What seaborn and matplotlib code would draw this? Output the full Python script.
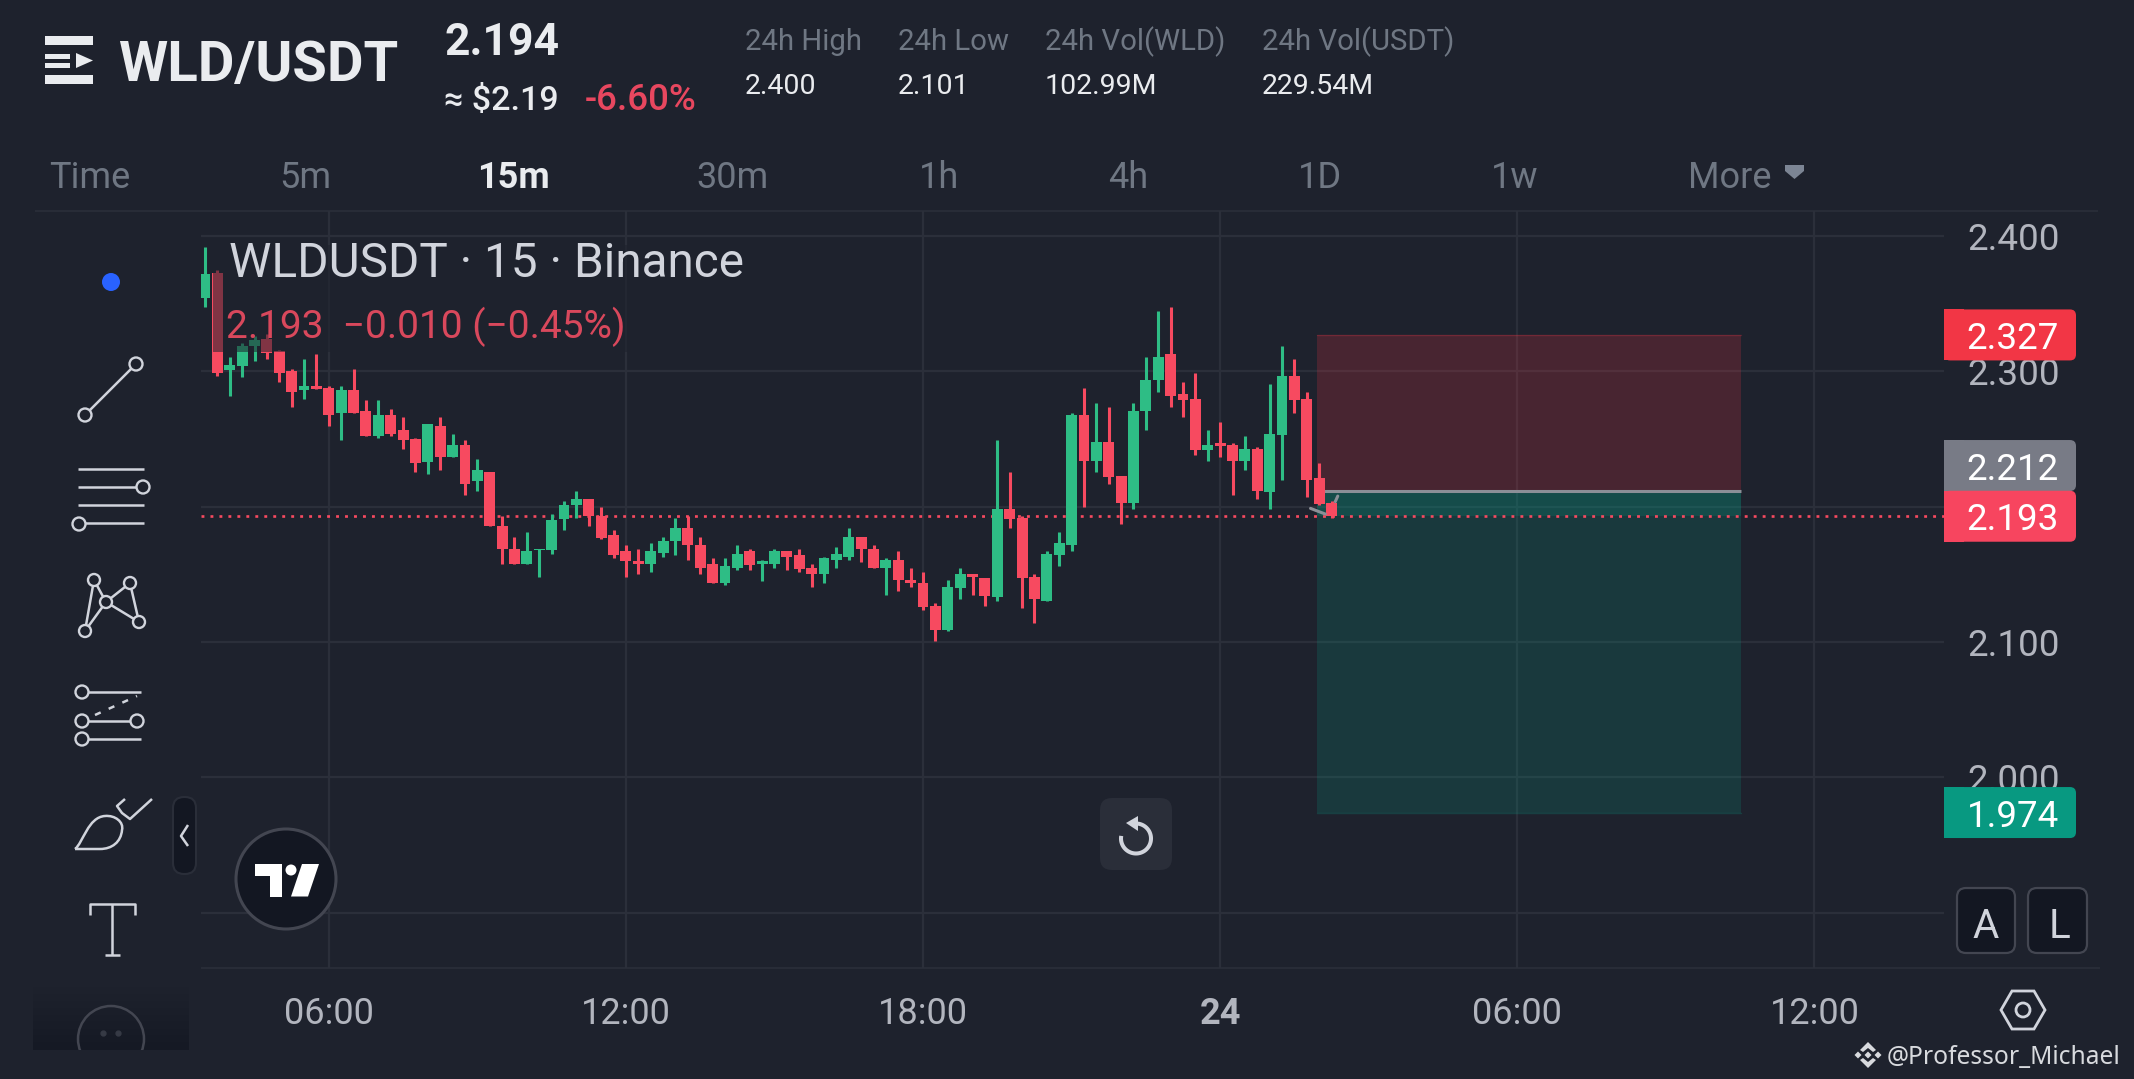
import numpy as np
import pandas as pd
import matplotlib.pyplot as plt
import seaborn as sns
from matplotlib.colors import LinearSegmentedColormap
from matplotlib.patches import Circle, FancyBboxPatch, PathPatch, Polygon, Rectangle
from matplotlib.path import Path

# 15m candles, first one is 03:30
opens = [2.354, 2.373, 2.301, 2.304, 2.319, 2.324, 2.315, 2.300, 2.286, 2.289, 2.288, 2.269, 2.286, 2.271, 2.252, 2.268,
         2.257, 2.250, 2.233, 2.260, 2.237, 2.246, 2.219, 2.226, 2.186, 2.169, 2.158, 2.168, 2.168, 2.191, 2.201, 2.206,
         2.193, 2.179, 2.167, 2.160, 2.158, 2.166, 2.175, 2.184, 2.172, 2.158, 2.144, 2.155, 2.167, 2.158, 2.158, 2.167,
         2.164, 2.155, 2.150, 2.161, 2.163, 2.178, 2.169, 2.155, 2.161, 2.146, 2.144, 2.127, 2.109, 2.140, 2.150, 2.147,
         2.133, 2.198, 2.192, 2.148, 2.130, 2.164, 2.172, 2.268, 2.234, 2.248, 2.223, 2.203, 2.271, 2.294, 2.313, 2.283,
         2.280, 2.242, 2.247, 2.246, 2.234, 2.243, 2.211, 2.253, 2.297, 2.280, 2.221, 2.203]
highs = [2.392, 2.375, 2.311, 2.321, 2.326, 2.328, 2.316, 2.302, 2.309, 2.313, 2.289, 2.289, 2.302, 2.279, 2.279, 2.272,
         2.266, 2.251, 2.261, 2.266, 2.254, 2.249, 2.235, 2.226, 2.193, 2.178, 2.181, 2.169, 2.195, 2.204, 2.212, 2.206,
         2.200, 2.183, 2.172, 2.169, 2.173, 2.178, 2.192, 2.193, 2.178, 2.162, 2.162, 2.172, 2.169, 2.161, 2.169, 2.167,
         2.169, 2.158, 2.163, 2.170, 2.184, 2.178, 2.172, 2.162, 2.167, 2.155, 2.152, 2.129, 2.146, 2.155, 2.150, 2.147,
         2.249, 2.226, 2.193, 2.150, 2.167, 2.181, 2.269, 2.288, 2.277, 2.274, 2.223, 2.277, 2.311, 2.345, 2.348, 2.292,
         2.299, 2.257, 2.263, 2.247, 2.252, 2.244, 2.291, 2.319, 2.309, 2.285, 2.232, 2.204]
lows = [2.348, 2.297, 2.282, 2.296, 2.308, 2.309, 2.292, 2.274, 2.280, 2.287, 2.260, 2.249, 2.269, 2.252, 2.251, 2.252,
        2.243, 2.226, 2.224, 2.227, 2.237, 2.209, 2.212, 2.186, 2.158, 2.158, 2.158, 2.148, 2.165, 2.183, 2.192, 2.186,
        2.176, 2.162, 2.148, 2.150, 2.152, 2.163, 2.164, 2.161, 2.150, 2.144, 2.142, 2.153, 2.153, 2.145, 2.155, 2.153,
        2.152, 2.141, 2.144, 2.155, 2.161, 2.159, 2.155, 2.135, 2.138, 2.141, 2.124, 2.101, 2.108, 2.132, 2.135, 2.127,
        2.130, 2.184, 2.125, 2.114, 2.130, 2.156, 2.167, 2.200, 2.226, 2.217, 2.187, 2.198, 2.257, 2.285, 2.274, 2.266,
        2.238, 2.234, 2.237, 2.209, 2.227, 2.206, 2.198, 2.220, 2.269, 2.207, 2.201, 2.192]
closes = [2.372, 2.299, 2.305, 2.319, 2.323, 2.314, 2.299, 2.285, 2.289, 2.287, 2.268, 2.286, 2.269, 2.252, 2.268, 2.254,
          2.249, 2.232, 2.261, 2.237, 2.246, 2.217, 2.227, 2.186, 2.169, 2.158, 2.167, 2.169, 2.190, 2.201, 2.206, 2.193,
          2.177, 2.164, 2.160, 2.158, 2.167, 2.175, 2.184, 2.172, 2.155, 2.144, 2.156, 2.165, 2.157, 2.160, 2.167, 2.163,
          2.154, 2.150, 2.162, 2.165, 2.178, 2.169, 2.155, 2.161, 2.146, 2.144, 2.126, 2.109, 2.141, 2.150, 2.148, 2.134,
          2.198, 2.191, 2.147, 2.132, 2.165, 2.173, 2.268, 2.234, 2.248, 2.222, 2.203, 2.271, 2.294, 2.311, 2.282, 2.279,
          2.242, 2.246, 2.245, 2.234, 2.243, 2.212, 2.254, 2.297, 2.279, 2.220, 2.202, 2.193]

price_ticks = [2.4, 2.3, 2.2, 2.1, 2.0, 1.9]
price_labels = ["2.400", "2.300", "", "2.100", "2.000", ""]
time_ticks = [10, 34, 58, 82, 106, 130]
time_labels = ["06:00", "12:00", "18:00", "24", "06:00", "12:00"]

stop_price = 2.327
entry_price = 2.212
last_price = 2.193
target_price = 1.974
box_start = 89.82
box_end = 124.07

BG = "#1e222d"
GRID = "#2b2f3a"
GREEN = "#2ebd85"
RED = "#f74a60"
TEXT = "#b2b5be"
ICON = "#d1d4dc"
DARK = "#131722"

sns.set_theme(style="dark", rc={"figure.facecolor": BG, "axes.facecolor": BG, "axes.edgecolor": GRID})
plt.rcParams["font.family"] = ["Roboto", "DejaVu Sans"]

df = pd.DataFrame({"idx": range(len(opens)), "open": opens, "high": highs, "low": lows, "close": closes})
df["base"] = df[["open", "close"]].min(axis=1)
df["height"] = (df["close"] - df["open"]).abs()
up = df[df["close"] >= df["open"]]
down = df[df["close"] < df["open"]]

W, H = 2134, 1079
fig = plt.figure(figsize=(W / 100, H / 100), dpi=100)
ax = fig.add_axes([201 / W, 1 - 968 / H, (1944 - 201) / W, (968 - 211) / H])

ax.fill_between([box_start, box_end], entry_price, stop_price, color="#f23645", alpha=0.2, lw=0, zorder=1)
ax.fill_between([box_start, box_end], target_price, entry_price, color="#089981", alpha=0.2, lw=0, zorder=1)
ax.fill_between([box_start, box_end], last_price, entry_price, color="#089981", alpha=0.2, lw=0, zorder=1)
ax.plot([box_start, box_end], [stop_price, stop_price], color="#f23645", alpha=0.25, lw=1, zorder=1)
ax.plot([box_start, box_end], [target_price, target_price], color="#089981", alpha=0.25, lw=1, zorder=1)
ax.hlines(entry_price, 90.4, box_end, color="#8b8f97", lw=2.2, zorder=2)
ax.axhline(last_price, color=RED, lw=1.9, ls=(0, (1.1, 2.3)), zorder=1.5)

ax.vlines(up["idx"], up["low"], up["high"], color=GREEN, lw=2.2, zorder=3)
ax.vlines(down["idx"], down["low"], down["high"], color=RED, lw=2.2, zorder=3)
for part, col in [(up, GREEN), (down, RED)]:
    sns.barplot(data=part, x="idx", y="height", bottom=part["base"], native_scale=True, width=0.88,
                color=col, saturation=1, errorbar=None, linewidth=0, zorder=3, ax=ax)

# little bits of the trade path around the last candle
ax.plot([89.3, 90.5], [2.1988, 2.1946], color="#8b8f97", lw=2.2, zorder=4)
ax.plot([91.3, 91.5], [2.2038, 2.2079], color="#8b8f97", lw=2.2, zorder=2)

ax.set_xlim(-0.323, 140.47)
ax.set_ylim(1.8591, 2.4186)
ax.set_xticks(time_ticks)
ax.set_xticklabels(time_labels)
ax.set_yticks(price_ticks)
ax.set_yticklabels(price_labels)
ax.yaxis.tick_right()
ax.set_axisbelow(True)
ax.grid(True, color=GRID, lw=1.6)
ax.set_xlabel("")
ax.set_ylabel("")
ax.tick_params(axis="x", length=0, pad=20, labelsize=26, labelcolor=TEXT)
ax.tick_params(axis="y", length=0, pad=16.5, labelsize=26.5, labelcolor=TEXT)
ax.get_xticklabels()[3].set_fontweight("bold")
sns.despine(ax=ax, left=True, right=True, top=True, bottom=True)

# everything else lives on an overlay in pixel coordinates
ov = fig.add_axes([0, 0, 1, 1])
ov.set_xlim(0, W)
ov.set_ylim(H, 0)
ov.axis("off")


def price_y(p):
    return H - ax.transData.transform((0, p))[1]


def txt(x, y, s, size, color=ICON, weight="normal", ha="left", va="baseline", **kw):
    return ov.text(x, y, s, fontsize=size, color=color, fontweight=weight, ha=ha, va=va, **kw)


def line(xs, ys, color=ICON, lw=1.8, **kw):
    ov.plot(xs, ys, color=color, lw=lw, solid_capstyle=kw.pop("cap", "butt"), **kw)


def node(x, y, r=6.5):
    ov.add_patch(Circle((x, y), r, fc=BG, ec=ICON, lw=1.7, zorder=5))


def rbox(x0, y0, x1, y1, r, fc, ec="none", lw=0, **kw):
    ov.add_patch(FancyBboxPatch((x0 + r, y0 + r), x1 - x0 - 2 * r, y1 - y0 - 2 * r,
                                boxstyle=f"round,pad={r},rounding_size={r}", fc=fc, ec=ec, lw=lw, **kw))


line([35, 2098], [211, 211], GRID, 1.2)
line([201, 2100], [967.5, 967.5], GRID, 1.2)

# header
for xy in [(45, 36, 48, 9), (45, 75, 48, 9), (45, 53.5, 25, 5), (45, 63, 25, 5)]:
    ov.add_patch(Rectangle(xy[:2], xy[2], xy[3], fc="#eaecef", lw=0))
ov.add_patch(Polygon([(76, 53), (93, 60.5), (76, 68)], fc="#eaecef", lw=0))
txt(118, 81, "WLD/USDT", 40.5, "#eaecef", "bold")
txt(444, 55, "2.194", 32, "#eaecef", "bold")
txt(444, 110, "≈ $2.19", 24.5, "#eaecef", "medium")
txt(585, 110, "-6.60%", 26.5, "#e8475f", "medium")
for x, name, val in [(745, "24h High", "2.400"), (898, "24h Low", "2.101"),
                     (1045, "24h Vol(WLD)", "102.99M"), (1262, "24h Vol(USDT)", "229.54M")]:
    txt(x, 50, name, 21.2, "#6f7783")
    txt(x, 94, val, 20.5, "#eaecef")

# interval row
txt(49, 188, "Time", 26, "#6f7783")
for x, name in [(305, "5m"), (733, "30m"), (939, "1h"), (1128, "4h"), (1320, "1D"), (1515, "1w"), (1730, "More")]:
    txt(x, 188, name, 26, "#6f7783", ha="center")
txt(513, 188, "15m", 26, "#eaecef", "bold", ha="center")
ov.add_patch(Polygon([(1785, 165), (1804, 165), (1804, 171), (1794.5, 179), (1785, 171)], fc="#7c8594", lw=0))

# legend over the candles
ov.add_patch(Rectangle((213, 245), 537, 37, fc=BG, alpha=0.55, lw=0))
ov.add_patch(Rectangle((213, 282), 415, 70, fc=BG, alpha=0.55, lw=0))
txt(229, 277, "WLDUSDT · 15 · Binance", 34.4, ICON)
txt(226, 338, "2.193  −0.010 (−0.45%)", 28, "#d9485c")

# price tags
for p, off, col in [(stop_price, 0, "#f23645"), (entry_price, -25, "#787b86"),
                    (last_price, 0, "#f7455f"), (target_price, 0, "#089981")]:
    y = price_y(p) + off
    rbox(1944, y - 25.5, 2076, y + 25.5, 6, col)
    ov.add_patch(Rectangle((1944, y - 25.5), 20, 51, fc=col, lw=0))
    txt(2013, y, f"{p:.3f}", 26.5, "white", ha="center", va="center_baseline")

# toolbar
ov.add_patch(Circle((111, 282), 9, fc="#2962ff", lw=0))
line([85, 136], [415, 364])
node(85, 415)
node(136, 364)
for y in [469, 487, 505, 523]:
    line([78, 144], [y, y])
node(143, 487)
node(79, 524)
nodes = {"a": (94, 580), "b": (130, 583), "c": (106, 602), "d": (85, 631), "e": (139, 622)}
for p, q in ["ad", "ac", "cb", "be", "ce", "cd"]:
    line([nodes[p][0], nodes[q][0]], [nodes[p][1], nodes[q][1]])
for p in nodes.values():
    node(*p, r=6)
for y in [692, 721, 739]:
    line([82, 141], [y, y])
line([95, 137], [715, 696], ls=(0, (2.5, 3.5)))
for p in [(82, 692), (82, 721), (137, 721), (82, 739)]:
    node(*p)
ov.add_patch(PathPatch(Path([(75, 849), (83, 843), (88, 817), (105, 816), (115, 815), (124, 822), (122, 830),
                             (121, 842), (112, 849), (100, 849), (75, 849)],
                            [Path.MOVETO, Path.CURVE4, Path.CURVE4, Path.CURVE4, Path.CURVE4, Path.CURVE4, Path.CURVE4,
                             Path.CURVE4, Path.CURVE4, Path.CURVE4, Path.LINETO]),
                       fc="none", ec=ICON, lw=1.8))
line([125, 117, 122, 130, 152], [799, 806, 813, 819, 799])
line([90, 90, 135, 135], [915, 904, 904, 915])
line([112, 112], [904, 955])
line([105, 120], [955, 955])
rbox(173, 797, 196, 874, 11, DARK, "#2a2e39", 1.5)
line([188, 181, 188], [825, 836, 846], ICON, 1.8)

fade = LinearSegmentedColormap.from_list("fade", [BG, "#151924"])
ov.imshow(np.linspace(0, 1, 64).reshape(-1, 1), cmap=fade, extent=(33, 189, 1050, 986), aspect="auto", zorder=1)
ov.set_xlim(0, W)
ov.set_ylim(H, 0)
dots = Circle((111, 1039), 33, fc="none", ec="#434651", lw=1.8, zorder=2)
ov.add_patch(dots)
dots.set_clip_path(Rectangle((33, 986), 156, 64, transform=ov.transData))
ov.plot([103, 118], [1033, 1033], "o", ms=3.5, color="#363a45", zorder=2)

# TradingView badge
ov.add_patch(Circle((286, 879), 50, fc=DARK, ec="#434651", lw=2.2))
ov.add_patch(Polygon([(255, 864), (282, 864), (282, 896.5), (270, 896.5), (270, 875.5), (255, 875.5)], fc="white", lw=0))
ov.add_patch(Circle((291, 870), 5.5, fc="white", lw=0))
ov.add_patch(Polygon([(302, 864), (319, 864), (308, 896.5), (291, 896.5)], fc="white", lw=0))

# reset button
rbox(1100, 798, 1172, 870, 12, "#2a2e39")
t = np.radians(np.linspace(-90, 190, 60))
line(1136 + 15 * np.cos(t), 838.5 + 15 * np.sin(t), ICON, 2.9)
ov.add_patch(Polygon([(1126, 823), (1138, 816), (1138, 831)], fc=ICON, lw=0))

# A / L buttons, settings, watermark
rbox(1957, 888, 2015, 953, 9, DARK, "#434651", 1.6)
rbox(2028, 888, 2087, 953, 9, DARK, "#434651", 1.6)
txt(1986, 922, "A", 29, ICON, ha="center", va="center_baseline")
txt(2059, 922, "L", 29, ICON, ha="center", va="center_baseline")
ov.add_patch(Polygon([(2001, 1010), (2012, 991), (2034, 991), (2045, 1010), (2034, 1029), (2012, 1029)], fc="none", ec=ICON, lw=2))
ov.add_patch(Circle((2023, 1010), 7, fc="none", ec=ICON, lw=2))
txt(1887, 1064, "@Professor_Michael", 17.7, "#d8dade", family="Noto Sans")
for cx, cy in [(1858, 1055), (1878, 1055), (1868, 1055)]:
    ov.add_patch(Polygon([(cx - 3.5, cy), (cx, cy - 3.5), (cx + 3.5, cy), (cx, cy + 3.5)], fc="#d8dade", lw=0))
ov.add_patch(Polygon([(1860, 1050), (1868, 1042), (1876, 1050), (1873, 1052), (1868, 1048), (1863, 1052)], fc="#d8dade", lw=0))
ov.add_patch(Polygon([(1860, 1060), (1868, 1068), (1876, 1060), (1873, 1058), (1868, 1062), (1863, 1058)], fc="#d8dade", lw=0))

plt.savefig("out.png", dpi=100)
